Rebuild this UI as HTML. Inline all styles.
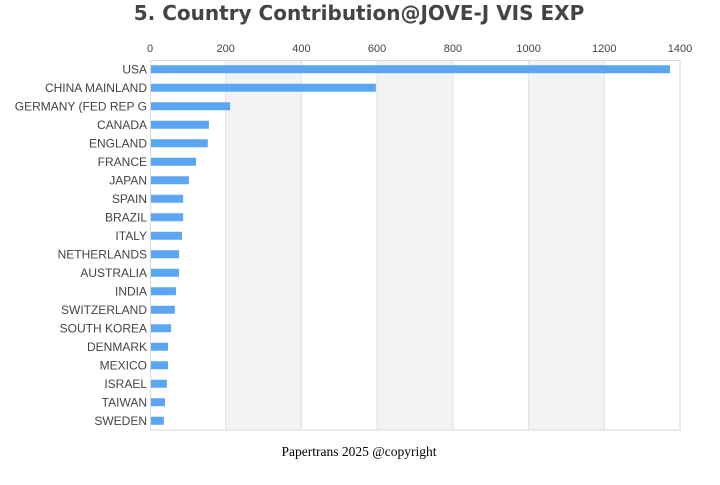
<!DOCTYPE html>
<html><head><meta charset="utf-8"><style>
body{margin:0;background:#fff;width:720px;height:480px;overflow:hidden;font-family:"Liberation Sans",sans-serif;}
</style></head><body>
<svg width="720" height="480" xmlns="http://www.w3.org/2000/svg">
<text x="359" y="20" text-anchor="middle" font-family="DejaVu Sans" font-weight="bold" font-size="20" fill="#444">5. Country Contribution@JOVE-J VIS EXP</text>
<rect x="225.7" y="60" width="75.7" height="370" fill="#f3f3f3"/>
<rect x="377.1" y="60" width="75.7" height="370" fill="#f3f3f3"/>
<rect x="528.6" y="60" width="75.7" height="370" fill="#f3f3f3"/>
<g stroke="#e0e0e0" stroke-width="1">
<line x1="225.7" y1="60" x2="225.7" y2="430"/><line x1="301.4" y1="60" x2="301.4" y2="430"/>
<line x1="377.1" y1="60" x2="377.1" y2="430"/><line x1="452.9" y1="60" x2="452.9" y2="430"/>
<line x1="528.6" y1="60" x2="528.6" y2="430"/><line x1="604.3" y1="60" x2="604.3" y2="430"/>
</g>
<rect x="150.5" y="60.5" width="529.5" height="369.5" fill="none" stroke="#d9d9d9"/>
<g font-size="11" fill="#444" text-anchor="middle">
<text x="150" y="52">0</text><text x="225.7" y="52">200</text><text x="301.4" y="52">400</text><text x="377.1" y="52">600</text><text x="452.9" y="52">800</text><text x="528.6" y="52">1000</text><text x="604.3" y="52">1200</text><text x="680" y="52">1400</text>
</g>
<g id="bars" fill="#5ba6f2"></g>
<g id="labels" font-size="12" fill="#444" text-anchor="end"></g>
<text x="359" y="456" text-anchor="middle" font-family="Liberation Serif" font-size="13.5" fill="#000">Papertrans 2025 @copyright</text>
<script>
var d=[["USA",1371],["CHINA MAINLAND",594],["GERMANY (FED REP G",209],["CANADA",153],["ENGLAND",150],["FRANCE",119],["JAPAN",100],["SPAIN",85],["BRAZIL",85],["ITALY",82],["NETHERLANDS",74],["AUSTRALIA",74],["INDIA",66],["SWITZERLAND",63],["SOUTH KOREA",53],["DENMARK",45],["MEXICO",45],["ISRAEL",42],["TAIWAN",37],["SWEDEN",34]];
var b=document.getElementById("bars"),l=document.getElementById("labels"),ns="http://www.w3.org/2000/svg";
d.forEach(function(r,i){var c=60+(i+0.5)*18.5;
var e=document.createElementNS(ns,"rect");e.setAttribute("x",151);e.setAttribute("y",c-4);e.setAttribute("width",r[1]*530/1400);e.setAttribute("height",8);b.appendChild(e);
var t=document.createElementNS(ns,"text");t.setAttribute("x",147);t.setAttribute("y",c+4);t.textContent=r[0];l.appendChild(t);});
</script>
</svg>
</body></html>
